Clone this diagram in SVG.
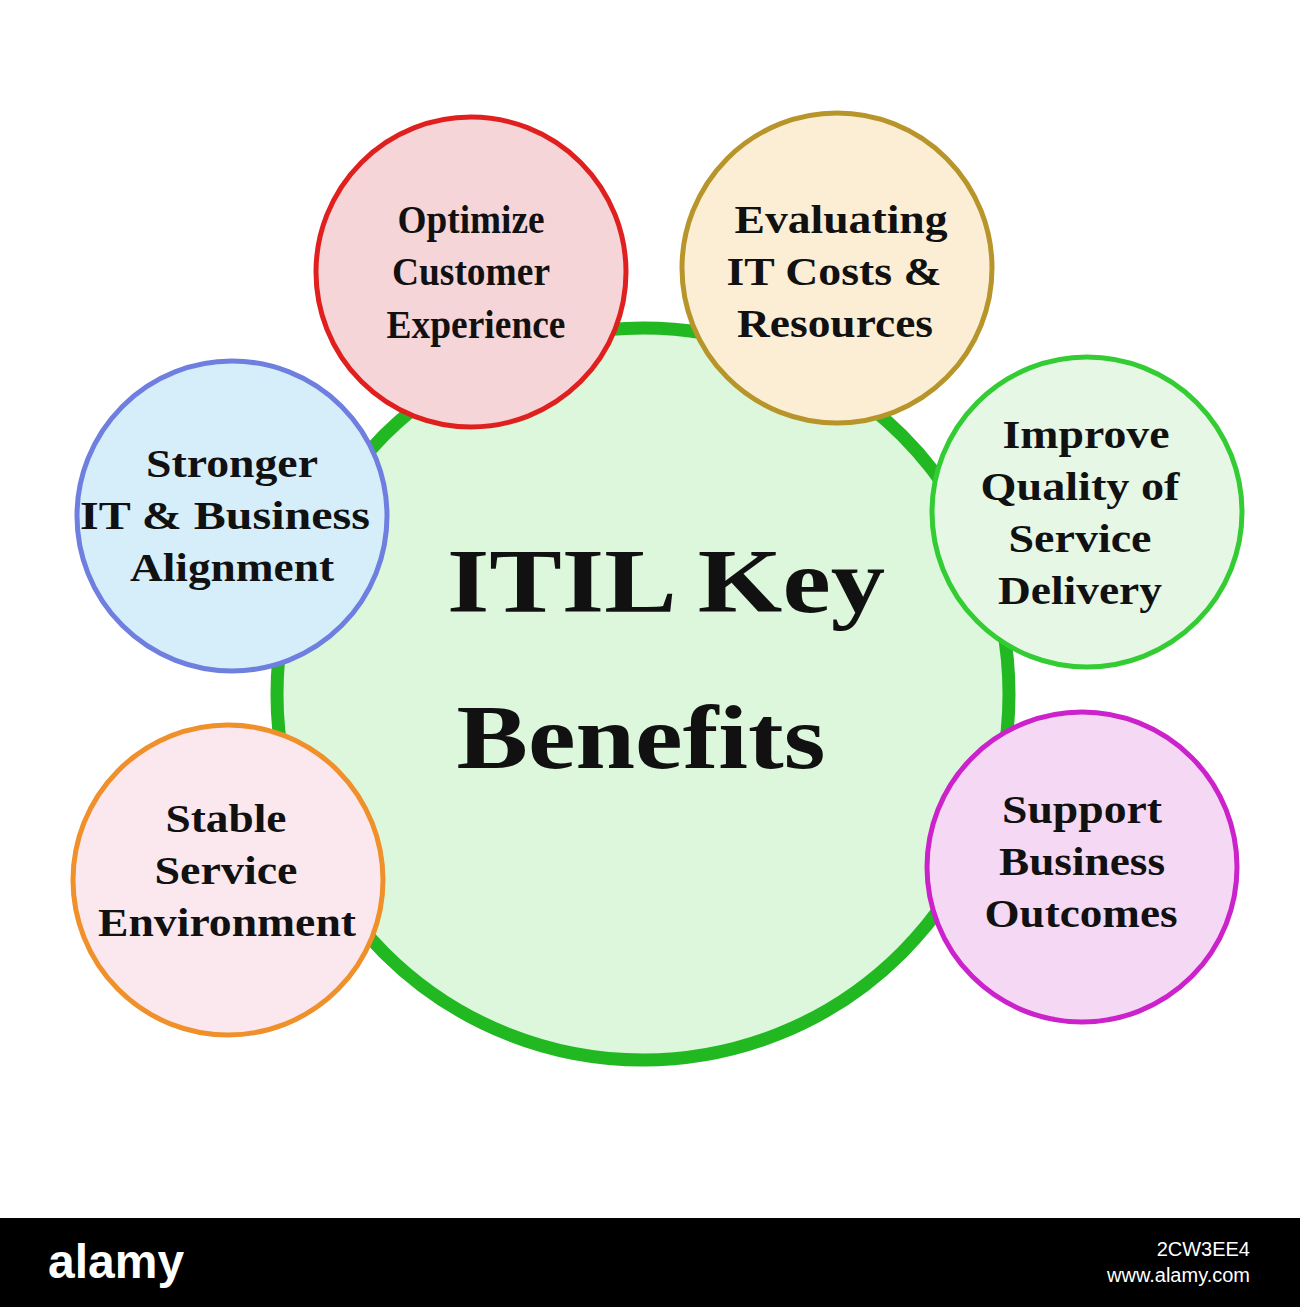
<svg xmlns="http://www.w3.org/2000/svg" width="1300" height="1307" viewBox="0 0 1300 1307">
<style>
.t{font-family:"Liberation Serif",serif;font-weight:bold;font-size:40px;fill:#111;text-anchor:middle}
.h{font-size:90px}
.c{stroke-width:5}
</style>
<rect width="1300" height="1307" fill="#fff"/>
<g id="center">
<circle cx="643" cy="694" r="366" fill="#dcf7dc" stroke="#22b822" stroke-width="13"/>
<text class="t h" x="666" y="612" textLength="438" lengthAdjust="spacingAndGlyphs">ITIL Key</text>
<text class="t h" x="641" y="768" textLength="369" lengthAdjust="spacingAndGlyphs">Benefits</text>
</g>
<g id="connectors"></g>
<g id="n1"><circle class="c" cx="471" cy="272" r="155" fill="#f5d5d8" stroke="#e0201e"/>
<text class="t" x="471" y="233" textLength="147" lengthAdjust="spacingAndGlyphs">Optimize</text><text class="t" x="471" y="285" textLength="158" lengthAdjust="spacingAndGlyphs">Customer</text><text class="t" x="476" y="338" textLength="179" lengthAdjust="spacingAndGlyphs">Experience</text></g>
<g id="n2"><circle class="c" cx="837" cy="268" r="155" fill="#fbeed5" stroke="#b8952a"/>
<text class="t" x="841" y="233" textLength="213" lengthAdjust="spacingAndGlyphs">Evaluating</text><text class="t" x="834" y="285" textLength="215" lengthAdjust="spacingAndGlyphs">IT Costs &amp;</text><text class="t" x="835" y="337" textLength="196" lengthAdjust="spacingAndGlyphs">Resources</text></g>
<g id="n3"><circle class="c" cx="1087" cy="512" r="155" fill="#e6f7e6" stroke="#33cc33"/>
<text class="t" x="1086" y="448" textLength="167" lengthAdjust="spacingAndGlyphs">Improve</text><text class="t" x="1080" y="500" textLength="199" lengthAdjust="spacingAndGlyphs">Quality of</text><text class="t" x="1080" y="552" textLength="143" lengthAdjust="spacingAndGlyphs">Service</text><text class="t" x="1080" y="604" textLength="164" lengthAdjust="spacingAndGlyphs">Delivery</text></g>
<g id="n4"><circle class="c" cx="1082" cy="867" r="155" fill="#f5d8f3" stroke="#cc22cc"/>
<text class="t" x="1082" y="823" textLength="160" lengthAdjust="spacingAndGlyphs">Support</text><text class="t" x="1082" y="875" textLength="166" lengthAdjust="spacingAndGlyphs">Business</text><text class="t" x="1081" y="927" textLength="193" lengthAdjust="spacingAndGlyphs">Outcomes</text></g>
<g id="n5"><circle class="c" cx="232" cy="516" r="155" fill="#d6eefa" stroke="#6f7fe0"/>
<text class="t" x="232" y="477" textLength="172" lengthAdjust="spacingAndGlyphs">Stronger</text><text class="t" x="225" y="529" textLength="290" lengthAdjust="spacingAndGlyphs">IT &amp; Business</text><text class="t" x="232" y="581" textLength="204" lengthAdjust="spacingAndGlyphs">Alignment</text></g>
<g id="n6"><circle class="c" cx="228" cy="880" r="155" fill="#fbe8ee" stroke="#f0902a"/>
<text class="t" x="226" y="832" textLength="121" lengthAdjust="spacingAndGlyphs">Stable</text><text class="t" x="226" y="884" textLength="143" lengthAdjust="spacingAndGlyphs">Service</text><text class="t" x="227" y="936" textLength="258" lengthAdjust="spacingAndGlyphs">Environment</text></g>
<g id="bar">
<rect x="0" y="1218" width="1300" height="89" fill="#000"/>
<text x="48" y="1278" font-family="Liberation Sans,sans-serif" font-weight="bold" font-size="48" fill="#fff">alamy</text>
<text x="1250" y="1256" font-family="Liberation Sans,sans-serif" font-size="20" fill="#fff" text-anchor="end">2CW3EE4</text>
<text x="1250" y="1282" font-family="Liberation Sans,sans-serif" font-size="20" fill="#fff" text-anchor="end">www.alamy.com</text>
</g>
</svg>
